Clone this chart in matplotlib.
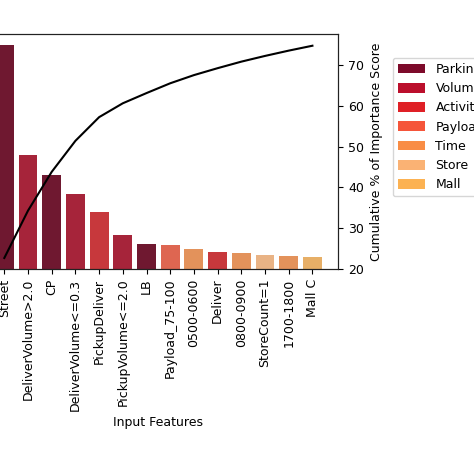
import numpy as np
import matplotlib
matplotlib.use("Agg")
from matplotlib import pyplot as plt
from matplotlib.patches import Patch
import seaborn as sns

# features, importance (%) and the group each one belongs to
features = ["Street", "DeliverVolume>2.0", "CP", "DeliverVolume<=0.3", "PickupDeliver",
            "PickupVolume<=2.0", "LB", "Payload_75-100", "0500-0600", "Deliver",
            "0800-0900", "StoreCount=1", "1700-1800", "Mall C"]
importance = [22.7, 11.6, 9.5, 7.6, 5.8, 3.4, 2.5, 2.4, 2.0, 1.7, 1.6, 1.4, 1.3, 1.2]
groups = ["Parking", "Volume", "Parking", "Volume", "Activity", "Volume", "Parking",
          "Payload", "Time", "Activity", "Time", "Store", "Time", "Mall"]

group_names = ["Parking", "Volume", "Activity", "Payload", "Time", "Store", "Mall"]
group_colors = ["#7d0a2a", "#bb0f2c", "#df2026", "#f5553a", "#f98d45", "#fab274", "#fcb252"]

plt.rcParams["font.family"] = "DejaVu Sans"
plt.rcParams["font.size"] = 9

fig = plt.figure(figsize=(4.74, 4.74), dpi=100)
ax = fig.add_axes([-0.0454, 0.4325, 0.759, 0.496])

cmap = dict(zip(group_names, group_colors))
x = np.arange(len(features))
bar_colors = [sns.desaturate(cmap[g], 0.75) for g in groups]
ax.bar(x, importance, width=0.8, color=bar_colors)
ax.set_xlim(-1.09, 14.09)
ax.set_ylim(0, max(importance) * 1.05)
ax.set_xticks(x)
ax.set_xticklabels(features, rotation=90)
ax.set_xlabel("Input Features")
ax.tick_params(left=False, labelleft=False)

# cumulative line on the right axis
ax2 = ax.twinx()
ax2.plot(x, np.cumsum(importance), color="k", lw=1.5)
ax2.set_ylim(20, 77.6)
ax2.set_yticks([20, 30, 40, 50, 60, 70])
ax2.set_ylabel("Cumulative % of Importance Score")

for a in (ax, ax2):
    for s in a.spines.values():
        s.set_color("#222222")

handles = [Patch(facecolor=c, label=n) for n, c in zip(group_names, group_colors)]
fig.legend(handles=handles, loc="upper left", bbox_to_anchor=(0.829, 0.878),
           handlelength=2.2, handleheight=0.8, borderaxespad=0)

fig.savefig("out.png", dpi=100)
